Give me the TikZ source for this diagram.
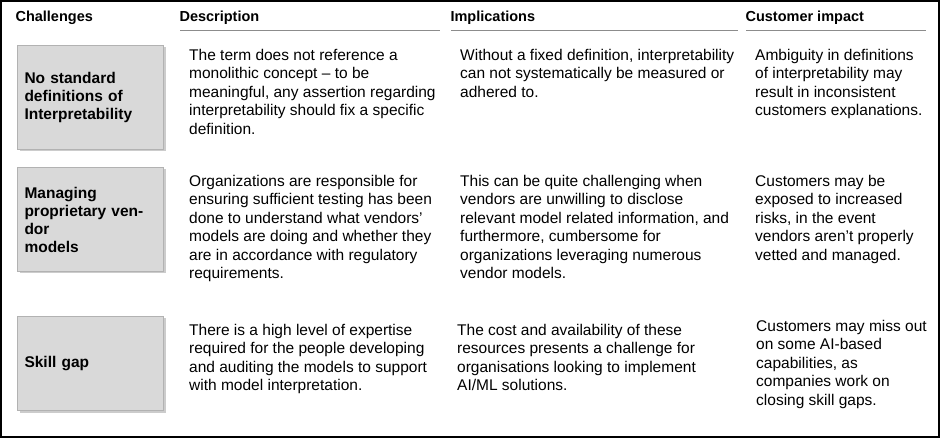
\documentclass[tikz,border=0pt]{standalone}
\usepackage{fontspec}
\setmainfont{Liberation Sans}
\usetikzlibrary{positioning,shadows}
\tikzset{
    header/.style={anchor=west,font=\fontsize{14.5}{16}\selectfont\bfseries},
    challenge/.style={rectangle,fill=black!15,draw=black!30,line width=1pt,
      minimum width=146pt,minimum height=104pt,anchor=north west,
      text width=132pt,align=left,font=\fontsize{15.5}{18}\selectfont\bfseries,
      drop shadow={shadow xshift=2pt,shadow yshift=-2pt,fill=black!40}},
    celltext/.style={anchor=north west,align=left,inner sep=0pt,
      font=\fontsize{15.5}{18.5}\selectfont},
    rule/.style={draw=black!45,line width=0.8pt},
}
\begin{document}
\begin{tikzpicture}[x=1pt,y=-1pt]
  \useasboundingbox (0,0) rectangle (940,438);
  \draw[line width=1.5pt] (1,1) rectangle (939,437);
  % headers
  \node[header] (hC) at (12,18) {Challenges};
  \node[header] (hD) at (176,18) {Description};
  \node[header] (hI) at (447,18) {Implications};
  \node[header] (hM) at (742,18) {Customer impact};
  \draw[rule] (180,30) -- (440,30);
  \draw[rule] (451,30) -- (738,30);
  \draw[rule] (746,30) -- (926,30);
  % row 1
  \node[challenge] (c1) at (17,45) {No standard\\definitions of\\Interpretability};
  \node[celltext] (d1) at (189,49) {The term does not reference a\\monolithic concept -- to be\\meaningful, any assertion regarding\\interpretability should fix a specific\\definition.};
  \node[celltext] (i1) at (460,49) {Without a fixed definition, interpretability\\can not systematically be measured or\\adhered to.};
  \node[celltext] (m1) at (755,49) {Ambiguity in definitions\\of interpretability may\\result in inconsistent\\customers explanations.};
  % row 2
  \node[challenge] (c2) at (17,167) {Managing\\proprietary vendor\\models};
  \node[celltext] (d2) at (189,175) {Organizations are responsible for\\ensuring sufficient testing has been\\done to understand what vendors'\\models are doing and whether they\\are in accordance with regulatory\\requirements.};
  \node[celltext] (i2) at (460,175) {This can be quite challenging when\\vendors are unwilling to disclose\\relevant model related information, and\\furthermore, cumbersome for\\organizations leveraging numerous\\vendor models.};
  \node[celltext] (m2) at (755,175) {Customers may be\\exposed to increased\\risks, in the event\\vendors aren't properly\\vetted and managed.};
  % row 3
  \node[challenge,minimum height=94pt] (c3) at (17,316) {Skill gap};
  \node[celltext] (d3) at (189,324) {There is a high level of expertise\\required for the people developing\\and auditing the models to support\\with model interpretation.};
  \node[celltext] (i3) at (457,324) {The cost and availability of these\\resources presents a challenge for\\organisations looking to implement\\AI/ML solutions.};
  \node[celltext] (m3) at (756,320) {Customers may miss out\\on some AI-based\\capabilities, as\\companies work on\\closing skill gaps.};
\end{tikzpicture}
\end{document}
